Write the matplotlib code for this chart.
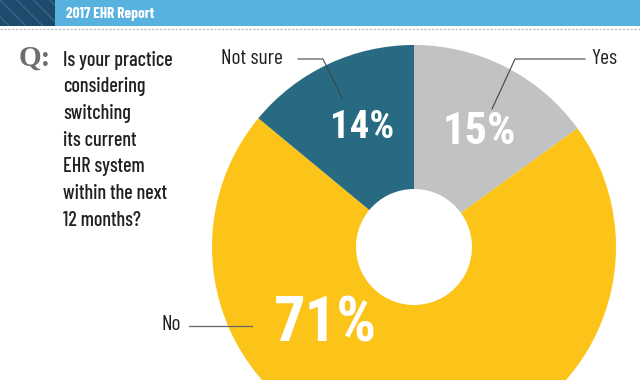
import matplotlib
matplotlib.use("Agg")
import matplotlib.pyplot as plt
import matplotlib.patches as mpatches

# ── Data ─────────────────────────────────────────────────────────────────────
answers = ["Yes", "No", "Not sure"]
shares = [15, 71, 14]
colors = ["#c1c2c4", "#fcc419", "#286a82"]

question = ["Is your practice", "considering", "switching", "its current",
            "EHR system", "within the next", "12 months?"]
banner_title = "2017 EHR Report"

narrow = ["Barlow Condensed", "Roboto Condensed", "Archivo Narrow",
          "Liberation Sans Narrow", "DejaVu Sans"]
bold_narrow = ["Roboto Condensed", "Barlow Condensed", "Archivo Narrow",
               "Liberation Sans Narrow", "DejaVu Sans"]

W, H = 640, 380
fig = plt.figure(figsize=(W / 100, H / 100), dpi=100)
ax = fig.add_axes([0, 0, 1, 1])

def Y(y):
    # image pixel row -> data y
    return H - y

# ── Donut ────────────────────────────────────────────────────────────────────
cx, cy, R = 414, Y(247), 202
wedges, _ = ax.pie(shares, colors=colors, startangle=90, counterclock=False,
                   center=(cx, cy), radius=R,
                   wedgeprops=dict(width=R - 58, linewidth=0))

ax.set_xlim(0, W)
ax.set_ylim(0, H)
ax.set_aspect("equal")
ax.axis("off")

pct_style = dict(color="white", fontweight="bold", family=bold_narrow,
                 ha="center", va="center")
ax.text(479, Y(132), f"{shares[0]}%", fontsize=32, **pct_style)
ax.text(362, Y(127), f"{shares[2]}%", fontsize=28, **pct_style)
ax.text(325, Y(325), f"{shares[1]}%", fontsize=45, **pct_style)

# outer labels with leader lines
lab = dict(color="#231f20", family=narrow, fontsize=15.5, va="center")
ax.text(283, Y(59), answers[2], ha="right", **lab)
ax.plot([298, 323, 342], [Y(59), Y(59), Y(98)], color="#444444", lw=0.8)
ax.text(591, Y(59), answers[0], ha="left", **lab)
ax.plot([585, 515, 492], [Y(59), Y(59), Y(109)], color="#444444", lw=0.8)
ax.text(181, Y(325), answers[1], ha="right", **lab)
ax.plot([189, 252], [Y(326), Y(326)], color="#666666", lw=0.9)

# ── Question ─────────────────────────────────────────────────────────────────
ax.text(19, Y(58), "Q:", fontsize=21, fontweight="bold", color="#6d6e71",
        family="Liberation Serif", ha="left", va="center")
for i, line in enumerate(question):
    ax.text(63, Y(60 + i * 26.7), line, fontsize=14.5, color="#231f20",
            fontweight="medium", family=narrow, ha="left", va="center")

# ── Banner ───────────────────────────────────────────────────────────────────
ax.add_patch(mpatches.Rectangle((0, Y(26)), W, 26, color="#58b2df", lw=0, zorder=5))
ax.add_patch(mpatches.Rectangle((0, Y(26)), 55, 26, facecolor="#1e4a6b",
                                edgecolor="#2f6a8e", hatch="\\\\", lw=0, zorder=6))
ax.plot([0, W], [Y(28.5), Y(28.5)], color="#b8b8b8", lw=0.8, ls=(0, (2, 1.5)), zorder=6)
ax.text(66, Y(14), banner_title, fontsize=11, fontweight="bold", color="white",
        family=narrow, ha="left", va="center", zorder=7)

fig.savefig("out.png", dpi=100)
